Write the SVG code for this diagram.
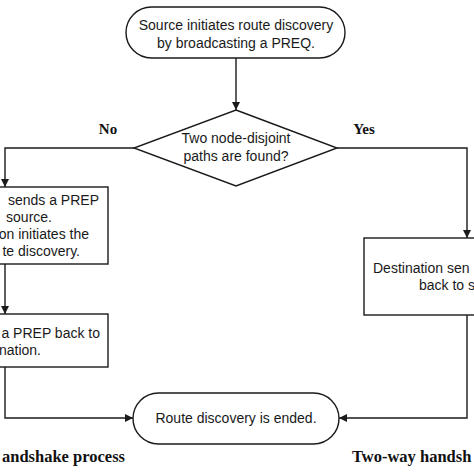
<svg xmlns="http://www.w3.org/2000/svg" width="474" height="474" viewBox="0 0 474 474">
<style>
.shape{fill:#fff;stroke:#1a1a1a;stroke-width:1.4}
.line{fill:none;stroke:#1a1a1a;stroke-width:1.4}
.t{font-family:"Liberation Sans",Arial,sans-serif;font-size:14px;fill:#1a1a1a}
.lbl{font-family:"Liberation Serif","Times New Roman",serif;font-weight:bold;fill:#111}
</style>
<defs>
<marker id="arr" viewBox="0 0 10 10" refX="10" refY="5" markerWidth="8" markerHeight="8" markerUnits="userSpaceOnUse" orient="auto">
<path d="M0,0 L10,5 L0,10 Z" fill="#1a1a1a"/>
</marker>
</defs>
<rect width="474" height="474" fill="#fff"/>
<g id="connectors">
<path class="line" d="M236,58 L236,110" marker-end="url(#arr)"/>
<path class="line" d="M134,148 L5,148 L5,187" marker-end="url(#arr)"/>
<path class="line" d="M5,264 L5,314" marker-end="url(#arr)"/>
<path class="line" d="M5,367 L5,418 L133,418" marker-end="url(#arr)"/>
<path class="line" d="M337,148 L467,148 L467,238" marker-end="url(#arr)"/>
<path class="line" d="M467,315 L467,418 L339,418" marker-end="url(#arr)"/>
</g>
<g id="start">
<rect class="shape" x="126" y="7" width="219" height="51" rx="25.5"/>
<text class="t" x="236" y="30" text-anchor="middle">Source initiates route discovery</text>
<text class="t" x="236" y="48" text-anchor="middle">by broadcasting a PREQ.</text>
</g>
<g id="decision">
<polygon class="shape" points="236,110 337,148 236,186 134,148"/>
<text class="t" x="236" y="143" text-anchor="middle">Two node-disjoint</text>
<text class="t" x="236" y="161" text-anchor="middle">paths are found?</text>
</g>
<g id="labels-branch">
<text class="lbl" x="108" y="134" font-size="15" text-anchor="middle">No</text>
<text class="lbl" x="364" y="134" font-size="15" text-anchor="middle">Yes</text>
</g>
<g id="left-box1">
<rect class="shape" x="-10" y="187" width="118" height="77"/>
<text class="t" x="99" y="205" text-anchor="end">sends a PREP</text>
<text class="t" x="52" y="222" text-anchor="end">source.</text>
<text class="t" x="89" y="239" text-anchor="end">on initiates the</text>
<text class="t" x="80" y="256" text-anchor="end">te discovery.</text>
</g>
<g id="left-box2">
<rect class="shape" x="-10" y="314" width="118" height="53"/>
<text class="t" x="100" y="338" text-anchor="end">a PREP back to</text>
<text class="t" x="41" y="355" text-anchor="end">nation.</text>
</g>
<g id="right-box">
<rect class="shape" x="364" y="238" width="130" height="77"/>
<text class="t" x="373" y="273">Destination sen</text>
<text class="t" x="419" y="290">back to s</text>
</g>
<g id="end">
<rect class="shape" x="133" y="393" width="206" height="51" rx="25.5"/>
<text class="t" x="236" y="423" text-anchor="middle">Route discovery is ended.</text>
</g>
<g id="process-labels">
<text class="lbl" x="125" y="462" font-size="16.5" text-anchor="end">andshake process</text>
<text class="lbl" x="352" y="462" font-size="16.5">Two-way handsh</text>
</g>
</svg>
